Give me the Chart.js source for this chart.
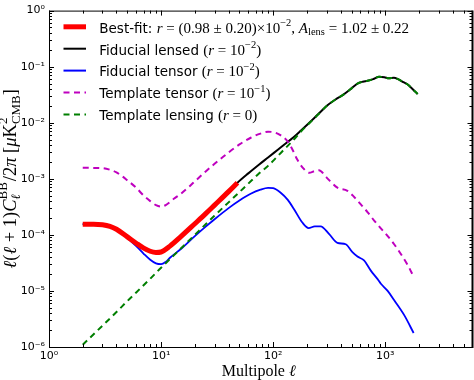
<!DOCTYPE html>
<html><head><meta charset="utf-8">
<script src="https://cdn.jsdelivr.net/npm/chart.js@4.4.0/dist/chart.umd.min.js"></script>
<style>html,body{margin:0;padding:0;background:#fff;} #c{display:block;}</style>
</head><body>
<canvas id="c" width="474" height="380" style="width:474px;height:380px"></canvas>
<script>
// ---------------- data ----------------
const xTicks = [1, 10, 100, 1000];
const xTickLabels = ['10⁰', '10¹', '10²', '10³'];
const yTicks = [1e-6, 1e-5, 1e-4, 1e-3, 1e-2, 1e-1, 1];
const yTickLabels = ['10⁻⁶', '10⁻⁵', '10⁻⁴', '10⁻³', '10⁻²', '10⁻¹', '10⁰'];

const seriesNames = [
  'Best-fit: r=(0.98±0.20)×10⁻², A_lens=1.02±0.22',
  'Fiducial lensed (r=10⁻²)',
  'Fiducial tensor (r=10⁻²)',
  'Template tensor (r=10⁻¹)',
  'Template lensing (r=0)'
];

const bestFitL  = [2, 2.5, 3, 3.5, 4, 5, 6, 7, 8, 9, 10, 12, 15, 20, 25, 30, 40, 48];
const bestFitCl = [1.55e-4, 1.55e-4, 1.52e-4, 1.42e-4, 1.26e-4, 9.2e-5, 7.1e-5, 5.8e-5, 5.1e-5, 4.85e-5, 4.95e-5, 6.3e-5, 9.3e-5, 1.58e-4, 2.39e-4, 3.39e-4, 5.9e-4, 8.5e-4];

const lensedL  = [2, 3, 4, 5, 6, 8, 10, 12, 15, 20, 25, 30, 40, 48, 60, 75, 90, 110, 130, 150, 176, 210, 250, 305, 360, 426, 500, 565, 630, 695, 780, 882, 980, 1077, 1194, 1300, 1450, 1585, 1750, 1945];
const lensedCl = [1.55e-4, 1.52e-4, 1.26e-4, 9.2e-5, 7.1e-5, 5.1e-5, 4.95e-5, 6.3e-5, 9.3e-5, 1.58e-4, 2.39e-4, 3.39e-4, 5.9e-4, 8.5e-4, 1.25e-3, 1.8e-3, 2.4e-3, 3.3e-3, 4.3e-3, 5.4e-3, 7.2e-3, 1.0e-2, 1.4e-2, 2.05e-2, 2.6e-2, 3.2e-2, 4.1e-2, 5.0e-2, 5.4e-2, 5.6e-2, 6.0e-2, 6.6e-2, 6.5e-2, 6.2e-2, 6.35e-2, 6.0e-2, 5.3e-2, 4.8e-2, 4.0e-2, 3.25e-2];

const tensorL  = [2, 3, 3.5, 4, 5, 6, 7, 8, 9, 10, 11, 12, 15, 20, 25, 30, 40, 50, 63, 77, 90, 100, 116, 135, 153, 182, 207, 235, 265, 316, 374, 444, 509, 565, 646, 743, 851, 914, 1050, 1202, 1480, 1790];
const tensorCl = [1.55e-4, 1.52e-4, 1.42e-4, 1.25e-4, 8.8e-5, 6.3e-5, 4.6e-5, 3.6e-5, 3.1e-5, 3.0e-5, 3.3e-5, 3.9e-5, 5.6e-5, 9.5e-5, 1.4e-4, 1.9e-4, 3.0e-4, 4.1e-4, 5.4e-4, 6.4e-4, 6.9e-4, 6.8e-4, 5.7e-4, 4.2e-4, 2.9e-4, 1.66e-4, 1.32e-4, 1.42e-4, 1.42e-4, 1.03e-4, 7.2e-5, 6.8e-5, 4.9e-5, 4.1e-5, 3.5e-5, 2.3e-5, 1.64e-5, 1.34e-5, 1.0e-5, 6.8e-6, 3.66e-6, 1.78e-6];

const tmplTensorL  = [2, 3, 3.5, 4, 5, 6, 7, 8, 9, 10, 11, 13, 15, 18, 20, 25, 30, 40, 50, 63, 77, 90, 100, 116, 134, 150, 164, 185, 209, 235, 256, 300, 374, 460, 530, 605, 700, 796, 900, 1047, 1200, 1377, 1600, 1790];
const tmplTensorCl = [1.57e-3, 1.55e-3, 1.45e-3, 1.3e-3, 9.4e-4, 6.9e-4, 5.0e-4, 4.0e-4, 3.4e-4, 3.2e-4, 3.4e-4, 4.4e-4, 5.4e-4, 7.4e-4, 9.0e-4, 1.35e-3, 1.85e-3, 2.95e-3, 4.1e-3, 5.4e-3, 6.4e-3, 6.9e-3, 6.8e-3, 6.0e-3, 4.7e-3, 3.2e-3, 2.2e-3, 1.55e-3, 1.28e-3, 1.38e-3, 1.42e-3, 1.05e-3, 6.95e-4, 6.1e-4, 4.7e-4, 3.5e-4, 2.5e-4, 1.8e-4, 1.35e-4, 9.6e-5, 6.8e-5, 4.56e-5, 2.8e-5, 1.8e-5];

const tmplLensL  = [2, 3, 4, 5, 6, 8, 10, 12, 15, 20, 25, 30, 40, 50, 60, 75, 90, 110, 130, 150, 176, 210, 250, 305, 360, 426, 500, 565, 630, 695, 780, 882, 980, 1077, 1194, 1300, 1450, 1585, 1750, 1945];
const tmplLensCl = [1.1e-6, 2.4e-6, 4.2e-6, 6.6e-6, 9.4e-6, 1.65e-5, 2.6e-5, 3.7e-5, 5.7e-5, 1.0e-4, 1.55e-4, 2.2e-4, 3.8e-4, 5.8e-4, 8.2e-4, 1.25e-3, 1.7e-3, 2.55e-3, 3.6e-3, 4.8e-3, 6.9e-3, 9.8e-3, 1.38e-2, 2.05e-2, 2.6e-2, 3.2e-2, 4.1e-2, 5.0e-2, 5.4e-2, 5.6e-2, 6.0e-2, 6.6e-2, 6.5e-2, 6.2e-2, 6.35e-2, 6.0e-2, 5.3e-2, 4.8e-2, 4.0e-2, 3.25e-2];

// ---------------- helpers ----------------
const pts = (L, C) => L.map((l, i) => ({x: l, y: C[i]}));
const SERIF = "'Liberation Serif'";
const SANS = "'DejaVu Sans'";
function fontFor(f, px) {
  if (f === 's') return px + 'px ' + SANS;
  if (f === 'i') return 'italic ' + px + 'px ' + SERIF;
  return px + 'px ' + SERIF;
}
function rich(ctx, parts, x, y, size, draw) {
  let cx = x;
  for (const p of parts) {
    if (p.stack) {
      let w = 0;
      for (const q of p.stack) {
        const px = size * (q.s || 1);
        ctx.font = fontFor(q.f, px);
        if (draw) ctx.fillText(q.t, cx, y + (q.dy || 0) * size);
        w = Math.max(w, ctx.measureText(q.t).width);
      }
      cx += w;
    } else {
      const px = size * (p.s || 1);
      ctx.font = fontFor(p.f, px);
      if (draw) ctx.fillText(p.t, cx + (p.pre || 0) * size, y + (p.dy || 0) * size);
      cx += ctx.measureText(p.t).width + ((p.pre || 0) + (p.sp || 0)) * size;
    }
  }
  return cx - x;
}
function nearLabel(v, arr, labels) {
  for (let i = 0; i < arr.length; i++) if (Math.abs(Math.log10(v) - Math.log10(arr[i])) < 1e-6) return labels[i];
  return '';
}

// legend specs (text drawn as real canvas text)
const SANSK = 0.9;
const SUP = {s: 0.7, dy: -0.42, f: 'r'};
const legendRows = [
  {color: '#ff0000', width: 5, dash: [], parts: [
    {t: 'Best-fit: ', f: 's', s: SANSK}, {t: 'r', f: 'i'}, {t: ' = (0.98 ± 0.20)×10', f: 'r'}, Object.assign({t: '−2'}, SUP),
    {t: ', ', f: 'r'}, {t: 'A', f: 'i'}, {t: 'lens', f: 'r', s: 0.7, dy: 0.18}, {t: ' = 1.02 ± 0.22', f: 'r'}]},
  {color: '#000000', width: 2, dash: [], parts: [
    {t: 'Fiducial lensed ', f: 's', s: SANSK}, {t: '(', f: 'r'}, {t: 'r', f: 'i'}, {t: ' = 10', f: 'r'}, Object.assign({t: '−2'}, SUP), {t: ')', f: 'r'}]},
  {color: '#0000ff', width: 2, dash: [], parts: [
    {t: 'Fiducial tensor ', f: 's', s: SANSK}, {t: '(', f: 'r'}, {t: 'r', f: 'i'}, {t: ' = 10', f: 'r'}, Object.assign({t: '−2'}, SUP), {t: ')', f: 'r'}]},
  {color: '#bf00bf', width: 2, dash: [6, 4.5], parts: [
    {t: 'Template tensor ', f: 's', s: SANSK}, {t: '(', f: 'r'}, {t: 'r', f: 'i'}, {t: ' = 10', f: 'r'}, Object.assign({t: '−1'}, SUP), {t: ')', f: 'r'}]},
  {color: '#007f00', width: 2, dash: [6, 4.5], parts: [
    {t: 'Template lensing ', f: 's', s: SANSK}, {t: '(', f: 'r'}, {t: 'r', f: 'i'}, {t: ' = 0)', f: 'r'}]}
];

const yTitleParts = [
  {t: 'ℓ', f: 'i'}, {t: '(', f: 'r'}, {t: 'ℓ', f: 'i'}, {t: ' + 1)', f: 'r'}, {t: 'C', f: 'i'},
  {stack: [{t: 'BB', f: 'r', s: 0.7, dy: -0.45}, {t: 'ℓ', f: 'i', s: 0.7, dy: 0.22}]},
  {t: '/2', f: 'r', pre: 0.05}, {t: 'π', f: 'i'}, {t: ' [', f: 'r'}, {t: 'μ', f: 'i'}, {t: 'K', f: 'r'},
  {stack: [{t: '2', f: 'r', s: 0.7, dy: -0.45}, {t: 'CMB', f: 'r', s: 0.7, dy: 0.25}]},
  {t: ']', f: 'r'}
];
const xTitleParts = [{t: 'Multipole ', f: 'r'}, {t: 'ℓ', f: 'i'}];

const deco = {
  id: 'deco',
  afterDraw(chart) {
    const {ctx, chartArea: a, scales: {x, y}} = chart;
    ctx.save();
    ctx.strokeStyle = '#000';
    ctx.lineWidth = 1;
    const minors = (min, max) => {
      const out = [];
      for (let e = Math.floor(Math.log10(min)); e <= Math.ceil(Math.log10(max)); e++)
        for (let m = 2; m <= 9; m++) { const v = m * Math.pow(10, e); if (v > min && v < max) out.push(v); }
      return out;
    };
    const tickX = (vals, len) => vals.forEach(v => {
      const px = Math.round(x.getPixelForValue(v)) + 0.5;
      ctx.beginPath(); ctx.moveTo(px, a.bottom); ctx.lineTo(px, a.bottom - len);
      ctx.moveTo(px, a.top); ctx.lineTo(px, a.top + len); ctx.stroke();
    });
    const tickY = (vals, len) => vals.forEach(v => {
      const py = Math.round(y.getPixelForValue(v)) + 0.5;
      ctx.beginPath(); ctx.moveTo(a.left, py); ctx.lineTo(a.left + len, py);
      ctx.moveTo(a.right, py); ctx.lineTo(a.right - len, py); ctx.stroke();
    });
    tickX(xTicks, 5); tickX(minors(x.min, x.max), 3);
    tickY(yTicks, 5); tickY(minors(y.min, y.max), 3);
    // frame
    ctx.beginPath();
    ctx.moveTo(a.left + 0.5, a.top + 0.5); ctx.lineTo(a.right, a.top + 0.5);
    ctx.moveTo(a.left + 0.5, a.top); ctx.lineTo(a.left + 0.5, a.bottom);
    ctx.moveTo(a.left, a.bottom + 0.5); ctx.lineTo(a.right, a.bottom + 0.5);
    ctx.stroke();
    ctx.lineWidth = 2;
    ctx.beginPath(); ctx.moveTo(a.right, a.top); ctx.lineTo(a.right, a.bottom + 1); ctx.stroke();

    // legend
    ctx.fillStyle = '#000';
    ctx.textBaseline = 'alphabetic';
    ctx.textAlign = 'left';
    legendRows.forEach((r, i) => {
      const base = 32.6 + i * 21.9;
      const ly = base - 5.8;
      ctx.save();
      ctx.strokeStyle = r.color; ctx.lineWidth = r.width; ctx.setLineDash(r.dash);
      ctx.beginPath(); ctx.moveTo(63.5, ly); ctx.lineTo(86, ly); ctx.stroke();
      ctx.restore();
      ctx.fillStyle = '#000';
      rich(ctx, r.parts, 99.3, base, 15, true);
    });

    // x title
    const xs = 16;
    const xw = rich(ctx, xTitleParts, 0, 0, xs, false);
    rich(ctx, xTitleParts, (a.left + a.right) / 2 - xw / 2 - 2, 376, xs, true);

    // y title (rotated)
    const ys = 18.5;
    const yw = rich(ctx, yTitleParts, 0, 0, ys, false);
    ctx.save();
    ctx.translate(15.5, (a.top + a.bottom) / 2);
    ctx.rotate(-Math.PI / 2);
    rich(ctx, yTitleParts, -yw / 2, 0, ys, true);
    ctx.restore();
    ctx.restore();
  }
};

const ds = (label, data, color, width, dash, order) => ({
  label, data, borderColor: color, backgroundColor: color, borderWidth: width,
  borderDash: dash, borderCapStyle: 'butt', pointRadius: 0, cubicInterpolationMode: 'monotone', fill: false, order
});

new Chart(document.getElementById('c'), {
  type: 'line',
  data: {
    datasets: [
      ds(seriesNames[0], pts(bestFitL, bestFitCl), '#ff0000', 5, [], 0),
      ds(seriesNames[1], pts(lensedL, lensedCl), '#000000', 2, [], 4),
      ds(seriesNames[2], pts(tensorL, tensorCl), '#0000ff', 1.8, [], 3),
      ds(seriesNames[3], pts(tmplTensorL, tmplTensorCl), '#bf00bf', 2, [6, 4.5], 2),
      ds(seriesNames[4], pts(tmplLensL, tmplLensCl), '#007f00', 2, [6, 4.5], 1)
    ]
  },
  options: {
    responsive: false,
    devicePixelRatio: 1,
    animation: false,
    events: [],
    layout: {padding: {top: 8, right: 1.5, left: 0, bottom: 0}},
    plugins: {legend: {display: false}, tooltip: {enabled: false}, title: {display: false}},
    scales: {
      x: {
        type: 'logarithmic', min: 1, max: 6000,
        afterBuildTicks: s => { s.ticks = xTicks.map(v => ({value: v})); },
        afterFit: s => { s.height = 33; },
        grid: {display: false, drawTicks: false},
        border: {display: false},
        ticks: {autoSkip: false, maxRotation: 0, padding: 3, color: '#000',
          font: {family: 'DejaVu Sans', size: 11},
          callback: v => nearLabel(v, xTicks, xTickLabels)}
      },
      y: {
        type: 'logarithmic', min: 1e-6, max: 1,
        afterBuildTicks: s => { s.ticks = yTicks.map(v => ({value: v})); },
        afterFit: s => { s.width = 49; },
        grid: {display: false, drawTicks: false},
        border: {display: false},
        ticks: {autoSkip: false, padding: 4, color: '#000',
          font: {family: 'DejaVu Sans', size: 11},
          callback: v => nearLabel(v, yTicks, yTickLabels)}
      }
    }
  },
  plugins: [deco]
});
</script>
</body></html>
